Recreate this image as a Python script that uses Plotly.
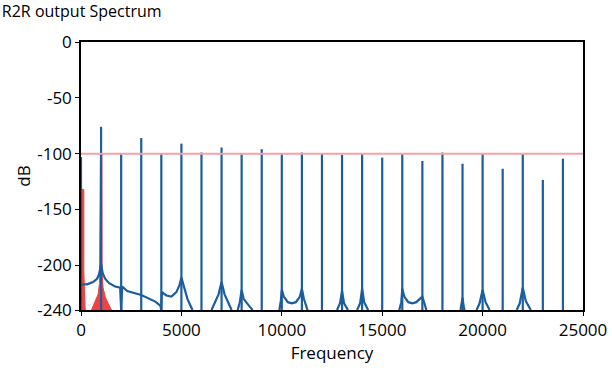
import plotly.graph_objects as go

# ---- data ----
harmonic_freq = [0, 1000, 2000, 3000, 4000, 5000, 6000, 7000, 8000, 9000, 10000, 11000,
                 12000, 13000, 14000, 15000, 16000, 17000, 18000, 19000, 20000, 21000,
                 22000, 23000, 24000]
harmonic_db = [-103, -76, -100.5, -86, -100.5, -91, -99, -94.5, -100.5, -96, -100.5, -99,
               -99.5, -101, -100.5, -103.5, -100.5, -106.5, -99, -109, -100.5, -113.5,
               -100.5, -123.5, -104.5]

# noise-floor skirts of the blue spectrum (frequency, dB), one list per segment
floor_segments = [
    [(0, -217), (300, -217), (600, -215), (800, -212), (900, -208), (970, -202), (1000, -199),
     (1080, -207), (1200, -212), (1400, -216), (1700, -219), (1950, -220), (2000, -240)],
    [(2000, -240), (2050, -219), (2300, -223), (3000, -226.5), (3700, -232.5), (3950, -236), (4000, -240)],
    [(4000, -240), (4030, -224), (4250, -227), (4500, -228), (4750, -224), (4900, -218), (5000, -211),
     (5100, -218), (5300, -230), (5500, -238), (5550, -240)],
    [(6500, -240), (6600, -236), (6850, -226), (7000, -215), (7150, -226), (7400, -236), (7500, -240)],
    [(7800, -240), (7900, -234), (8000, -222), (8100, -230), (8400, -237), (8550, -240)],
    [(9880, -240), (9950, -232), (10000, -222), (10100, -228), (10300, -233), (10500, -234),
     (10700, -233), (10900, -228), (11000, -221), (11100, -230), (11280, -240)],
    [(12750, -240), (12900, -234), (13000, -223), (13100, -234), (13300, -240)],
    [(13750, -240), (13900, -234), (14000, -221), (14100, -233), (14300, -240)],
    [(15850, -240), (15950, -233), (16000, -221), (16100, -228), (16300, -233), (16500, -234),
     (16700, -233), (16900, -230), (17000, -228), (17100, -234), (17200, -240)],
    [(18900, -240), (18950, -236), (19000, -229), (19050, -236), (19100, -240)],
    [(19700, -240), (19850, -234), (20000, -222), (20150, -233), (20350, -240)],
    [(21700, -240), (21850, -234), (22000, -220), (22150, -232), (22400, -240)],
]

# red (reference) spectrum outline, filled to the -240 dB floor
red_dc = [(0, -240), (0, -132), (140, -132), (140, -205), (180, -228), (210, -240)]
red_fund = [(520, -240), (700, -233), (850, -226), (920, -216), (935, -159), (960, -159),
            (965, -99), (1040, -99), (1050, -208), (1100, -220), (1200, -228), (1350, -234),
            (1520, -240)]

threshold_db = -100
x_ticks = [0, 5000, 10000, 15000, 20000, 25000]
y_ticks = [0, -50, -100, -150, -200, -240]

BLUE = "#1b5d9e"
RED = "#f24141"
PINK = "#f5a3a8"
FONT = "Open Sans"

fig = go.Figure()

for poly in (red_dc, red_fund):
    fig.add_trace(go.Scatter(x=[p[0] for p in poly], y=[p[1] for p in poly], mode="lines",
                             fill="toself", fillcolor=RED, line=dict(color=RED, width=1),
                             hoverinfo="skip", showlegend=False))

# blue spikes
sx, sy = [], []
for f, d in zip(harmonic_freq, harmonic_db):
    sx += [f, f, None]
    sy += [-240, d, None]
# blue floor
for seg in floor_segments:
    sx += [p[0] for p in seg] + [None]
    sy += [p[1] for p in seg] + [None]
fig.add_trace(go.Scatter(x=sx, y=sy, mode="lines", line=dict(color=BLUE, width=2.2),
                         showlegend=False, connectgaps=False))

fig.add_trace(go.Scatter(x=[0, 25000], y=[threshold_db, threshold_db], mode="lines",
                         line=dict(color=PINK, width=2), showlegend=False))

fig.update_layout(
    width=612, height=374,
    margin=dict(l=81, r=29, t=42, b=64),
    paper_bgcolor="white", plot_bgcolor="white",
    font=dict(family=FONT, size=17, color="black"),
    title=dict(text="R2R output Spectrum", x=0.003, xanchor="left", y=0.984, yanchor="top",
               font=dict(family=FONT, size=16, color="black")),
)
fig.update_xaxes(range=[0, 25000], tickvals=x_ticks, ticktext=[str(v) for v in x_ticks],
                 showgrid=False, zeroline=False, showline=True, linecolor="black", linewidth=1.5,
                 mirror=True, ticks="outside", ticklen=4, tickcolor="black", automargin=False,
                 tickfont=dict(size=17),
                 title=dict(text="Frequency", standoff=4, font=dict(size=17)))
fig.update_yaxes(range=[-240, 0], tickvals=y_ticks, ticktext=[str(v) for v in y_ticks],
                 showgrid=False, zeroline=False, showline=True, linecolor="black", linewidth=1.5,
                 mirror=True, ticks="outside", ticklen=4, tickcolor="black", automargin=False,
                 tickfont=dict(size=17),
                 title=dict(text="dB", standoff=2, font=dict(size=17)))

fig.write_html("out.html", config={"displayModeBar": False},
               post_script="document.body.style.margin='0';")
